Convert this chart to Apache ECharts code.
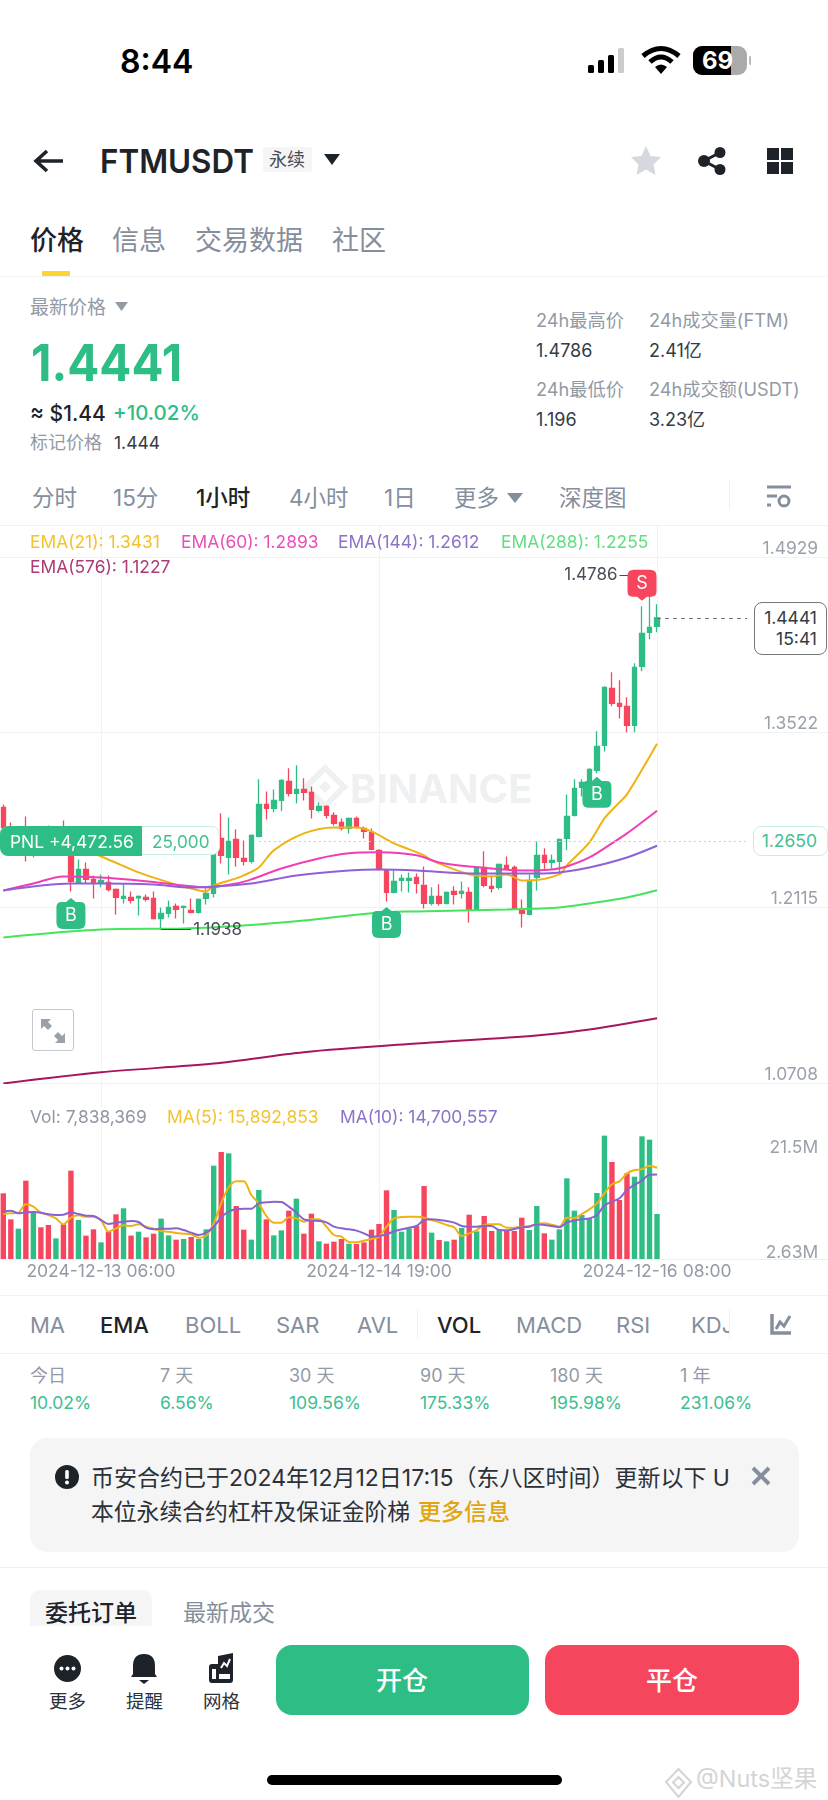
<!DOCTYPE html>
<html>
<head>
<meta charset="utf-8">
<title>FTMUSDT</title>
<script src="https://cdn.jsdelivr.net/npm/echarts@6/dist/echarts.min.js"></script>
<style>
html,body{margin:0;padding:0;background:#fff}
#page{position:relative;width:828px;height:1800px;overflow:hidden;background:#fff;font-family:Inter,"Noto Sans CJK SC",sans-serif}
#chart{position:absolute;left:0;top:525px;width:828px;height:757px}
.t{position:absolute;white-space:nowrap;line-height:1;transform:translateY(-50%);transform-origin:left center}
.b{position:absolute}
svg{position:absolute;overflow:visible;z-index:4}
</style>
</head>
<body>
<div id="page">
    <div id="chart"></div>
</div>
<script>
// [open, close, low, high], one per hour from 2024-12-12 17:00
var candles = [
    [1.2920,1.2759,1.2743,1.2944],[1.2751,1.2671,1.2655,1.2799],[1.2671,1.2719,1.2639,1.2751],[1.2735,1.2615,1.2486,1.2847],
    [1.2575,1.2671,1.2518,1.2719],[1.2695,1.2615,1.2591,1.2735],[1.2695,1.2639,1.2607,1.2775],[1.2615,1.2695,1.2575,1.2735],
    [1.2711,1.2655,1.2615,1.2815],[1.2671,1.2326,1.2245,1.2719],[1.2318,1.2422,1.2310,1.2502],[1.2422,1.2342,1.2310,1.2478],
    [1.2342,1.2310,1.2189,1.2374],[1.2318,1.2334,1.2278,1.2382],[1.2318,1.2261,1.2245,1.2374],[1.2261,1.2197,1.2061,1.2269],
    [1.2189,1.2205,1.2149,1.2310],[1.2197,1.2173,1.2149,1.2245],[1.2193,1.2205,1.2053,1.2213],[1.2197,1.2181,1.2165,1.2221],
    [1.2189,1.2028,1.2020,1.2245],[1.2028,1.2069,1.1938,1.2117],[1.2069,1.2117,1.2036,1.2173],[1.2125,1.2101,1.2028,1.2149],
    [1.2117,1.2125,1.1988,1.2133],[1.2093,1.2077,1.2069,1.2189],[1.2077,1.2181,1.2069,1.2189],[1.2189,1.2229,1.2141,1.2269],
    [1.2229,1.2575,1.2197,1.2615],[1.2671,1.2535,1.2470,1.2872],[1.2518,1.2647,1.2382,1.2839],[1.2663,1.2518,1.2446,1.2743],
    [1.2510,1.2486,1.2454,1.2655],[1.2486,1.2695,1.2470,1.2703],[1.2687,1.2944,1.2679,1.3145],[1.2944,1.2912,1.2823,1.3048],
    [1.2912,1.2976,1.2880,1.3064],[1.2976,1.3137,1.2888,1.3145],[1.3129,1.3032,1.3008,1.3233],[1.3032,1.3064,1.2952,1.3257],
    [1.3064,1.3040,1.2976,1.3153],[1.3040,1.2904,1.2831,1.3088],[1.2896,1.2928,1.2880,1.2960],[1.2928,1.2856,1.2831,1.2936],
    [1.2856,1.2791,1.2775,1.2880],[1.2799,1.2751,1.2735,1.2831],[1.2751,1.2831,1.2711,1.2839],[1.2831,1.2759,1.2751,1.2847],
    [1.2751,1.2727,1.2671,1.2767],[1.2719,1.2583,1.2575,1.2751],[1.2575,1.2422,1.2414,1.2583],[1.2414,1.2237,1.2165,1.2420],
    [1.2237,1.2326,1.2229,1.2414],[1.2334,1.2350,1.2245,1.2382],[1.2334,1.2350,1.2237,1.2398],[1.2358,1.2310,1.2229,1.2390],
    [1.2294,1.2149,1.2109,1.2446],[1.2149,1.2205,1.2133,1.2278],[1.2205,1.2149,1.2133,1.2302],[1.2149,1.2237,1.2141,1.2245],
    [1.2245,1.2221,1.2141,1.2286],[1.2229,1.2245,1.2189,1.2326],[1.2237,1.2101,1.1996,1.2278],[1.2101,1.2438,1.2093,1.2446],
    [1.2438,1.2294,1.2278,1.2567],[1.2286,1.2270,1.2237,1.2374],[1.2278,1.2462,1.2261,1.2470],[1.2454,1.2430,1.2422,1.2526],
    [1.2438,1.2109,1.2101,1.2454],[1.2093,1.2069,1.1956,1.2181],[1.2061,1.2334,1.2053,1.2382],[1.2358,1.2535,1.2253,1.2647],
    [1.2535,1.2478,1.2422,1.2591],[1.2478,1.2494,1.2430,1.2542],[1.2486,1.2663,1.2382,1.2671],[1.2671,1.2847,1.2575,1.3024],
    [1.2855,1.3072,1.2847,1.3145],[1.3080,1.3120,1.3008,1.3145],[1.3121,1.3225,1.3097,1.3233],[1.3217,1.3410,1.3193,1.3530],
    [1.3418,1.3883,1.3369,1.3891],[1.3875,1.3755,1.3731,1.4004],[1.3755,1.3731,1.3634,1.3940],[1.3731,1.3578,1.3522,1.3803],
    [1.3578,1.4044,1.3522,1.4076],[1.4052,1.4317,1.4012,1.4534],[1.4325,1.4365,1.4269,1.4786],[1.4373,1.4441,1.4325,1.4550]
];

// volume in millions
var volumes = [
    11.44,6.91,5.28,13.65,8.25,5.52,5.92,3.60,6.04,15.39,6.79,4.07,5.17,2.90,4.76,7.78,8.83,4.07,4.76,3.77,4.41,7.03,
    4.12,3.37,3.48,3.83,3.48,5.17,16.26,18.64,18.41,9.23,5.11,3.37,12.02,6.91,4.12,4.99,8.42,10.51,4.41,7.90,3.08,2.67,
    3.02,3.48,2.67,2.61,2.90,5.11,6.10,11.96,8.54,4.76,5.34,5.75,12.72,4.59,3.31,3.08,3.37,5.40,7.72,4.82,7.49,4.88,
    5.17,4.88,4.88,7.20,5.05,9.23,4.47,3.37,5.17,14.05,8.42,7.67,7.08,11.50,21.49,16.90,10.28,14.92,14.34,21.37,20.79,7.84
];
var volMa5 = [
    7.84,7.96,8.07,9.52,9.12,8.07,7.67,7.08,6.04,7.20,7.61,7.38,7.38,6.79,4.76,5.34,5.87,5.75,6.04,5.63,5.28,4.88,
    4.76,4.53,4.41,4.30,3.72,4.07,6.21,9.70,12.49,13.53,13.53,11.15,9.70,7.49,6.33,6.33,7.26,7.08,6.50,6.91,6.91,5.63,
    4.18,3.89,2.96,2.90,3.19,3.48,3.89,5.63,7.08,7.32,7.38,7.38,7.20,6.79,6.39,5.92,5.52,4.01,4.47,5.05,5.92,6.04,
    6.04,5.46,5.46,5.63,5.75,6.10,6.21,5.98,5.63,7.20,7.14,7.84,8.65,9.70,11.44,13.01,13.53,14.92,15.51,15.62,16.26,15.89
];
var volMa10 = [
    8.25,8.42,7.96,8.13,8.19,8.07,7.78,7.67,7.72,8.13,7.84,7.55,7.49,6.79,6.10,6.33,6.50,6.62,6.45,5.46,5.17,5.28,
    5.28,5.34,5.05,4.59,4.18,4.59,5.63,7.26,8.25,8.65,8.77,8.77,9.70,9.87,9.99,9.93,9.12,8.07,6.91,6.68,6.62,6.39,
    5.63,5.34,5.17,4.94,4.47,3.89,4.01,4.30,4.82,5.17,5.46,5.75,6.79,6.91,6.79,6.62,6.33,5.75,5.63,5.63,5.81,5.75,
    5.05,4.99,5.23,5.52,5.63,6.04,5.92,5.75,5.52,6.39,6.68,6.91,7.08,7.67,9.35,9.99,10.57,12.02,12.89,13.65,14.69,14.70
];

var ema21 = [[0,1.2671],[6,1.2671],[13,1.2526],[18,1.2398],[22,1.2318],[25,1.2269],[27,1.2245],[28,1.2293],[31,1.2350],[32,1.2374],[34,1.2438],[36,1.2575],[40,1.2711],[44,1.2759],[47,1.2759],[49,1.2727],[52,1.2631],[54,1.2583],[56,1.2535],[57,1.2494],[62,1.2382],[65,1.2366],[67,1.2382],[69,1.2334],[70,1.2334],[74,1.2382],[75,1.2454],[78,1.2639],[80,1.2831],[82,1.2960],[83,1.3024],[87,1.3431]];
var ema60 = [[0,1.2253],[4,1.2309],[8,1.2366],[13,1.2358],[18,1.2334],[24,1.2293],[27,1.2277],[31,1.2309],[33,1.2342],[37,1.2430],[42,1.2510],[46,1.2551],[50,1.2559],[55,1.2535],[58,1.2478],[62,1.2446],[69,1.2414],[73,1.2422],[75,1.2446],[78,1.2518],[81,1.2631],[83,1.2711],[87,1.2893]];
var ema144 = [[0,1.2253],[9,1.2309],[13,1.2309],[20,1.2301],[25,1.2277],[28,1.2285],[33,1.2309],[39,1.2374],[46,1.2414],[50,1.2422],[55,1.2414],[62,1.2390],[67,1.2390],[71,1.2390],[74,1.2398],[78,1.2438],[83,1.2518],[87,1.2612]];
var ema288 = [[0,1.1876],[13,1.1940],[24,1.1948],[32,1.1972],[40,1.2012],[50,1.2077],[55,1.2085],[67,1.2101],[74,1.2117],[78,1.2149],[83,1.2197],[87,1.2255]];
var ema576 = [[0,1.0704],[13,1.0794],[28,1.0864],[40,1.0955],[55,1.1025],[71,1.1089],[78,1.1137],[87,1.1227]];

var priceTicks = [1.0708, 1.2115, 1.3522, 1.4929];
var volTicks = [2.63, 21.5];
var lastPrice = 1.4441;
var entryPrice = 1.2650;
var highPrice = 1.4786;
var lowPrice = 1.1938;
var buyMarks = [[9,1.2189],[51,1.2117],[79,1.3161]];
var sellMarks = [[85,1.4582]];

var GREEN = '#2ebd85', RED = '#f6465d', GRAY = '#848e9c', DARK = '#1e2329', LINE = '#f1f2f4';

// x axis keeps 23 empty hours on the right
var categories = [];
for (var k = 0; k < 111; k++) {
    var d = new Date(Date.UTC(2024, 11, 12, 17 + k));
    var pad = function (n) { return (n < 10 ? '0' : '') + n; };
    categories.push(d.getUTCFullYear() + '-' + pad(d.getUTCMonth() + 1) + '-' + pad(d.getUTCDate()) + ' ' + pad(d.getUTCHours()) + ':00');
}
var showTick = function (i) { return i === 13 || i === 50 || i === 87; };

var page = document.getElementById('page');
function txt(s, x, cy, size, color, weight, right) {
    var e = document.createElement('div');
    e.className = 't';
    e.textContent = s;
    e.style.top = cy + 'px';
    if (right) { e.style.right = (828 - x) + 'px'; } else { e.style.left = x + 'px'; }
    e.style.fontSize = size + 'px';
    e.style.color = color || DARK;
    if (weight) e.style.fontWeight = weight;
    page.appendChild(e);
    return e;
}
function box(x, y, w, h, bg, radius, extra) {
    var e = document.createElement('div');
    e.className = 'b';
    e.style.cssText = 'left:' + x + 'px;top:' + y + 'px;width:' + w + 'px;height:' + h + 'px;background:' + bg + ';border-radius:' + (radius || 0) + 'px;' + (extra || '');
    page.appendChild(e);
    return e;
}
function svg(x, y, w, h, inner, vb) {
    var s = document.createElementNS('http://www.w3.org/2000/svg', 'svg');
    s.setAttribute('viewBox', vb || ('0 0 ' + w + ' ' + h));
    s.setAttribute('width', w);
    s.setAttribute('height', h);
    s.style.left = x + 'px';
    s.style.top = y + 'px';
    s.innerHTML = inner;
    page.appendChild(s);
}

// status bar
txt('8:44', 120, 62, 32, '#000', 600);
svg(588, 48, 42, 25, '<rect x="0" y="17" width="6" height="8" rx="1.5" fill="#000"/><rect x="10" y="12" width="6" height="13" rx="1.5" fill="#000"/><rect x="20" y="7" width="6" height="18" rx="1.5" fill="#000"/><rect x="30" y="0" width="6" height="25" rx="1.5" fill="#ccc"/>');
svg(642, 47, 38, 27, '<path d="M1 9 Q19 -6 37 9" fill="none" stroke="#000" stroke-width="5"/><path d="M8 15 Q19 5 30 15" fill="none" stroke="#000" stroke-width="5"/><path d="M13 20 L19 27 L25 20 Q19 15 13 20Z" fill="#000"/>');
box(693, 46, 54, 29, '#aaa', 9);
box(693, 46, 38, 29, '#000', 9, 'border-radius:9px 0 0 9px');
box(749, 56, 2, 9, '#bbb', 1);
txt('69', 702, 61, 24, '#fff', 700);

// header
svg(34, 149, 30, 24, '<path d="M13 2 L2 12 L13 22 M3 12 H29" fill="none" stroke="' + DARK + '" stroke-width="3.6"/>');
txt('FTMUSDT', 100, 161, 33, DARK, 600).style.transform = 'translateY(-50%) scaleX(.95)';
box(263, 147, 49, 25, '#f5f5f5', 3);
txt('永续', 269, 160, 18, '#474d57');
svg(324, 154, 16, 11, '<path d="M0 0 H16 L8 11Z" fill="' + DARK + '"/>');
svg(631, 146, 30, 29, '<path d="M15 0 L19.5 10 L30 11 L22.5 18.5 L24.5 29 L15 23.5 L5.5 29 L7.5 18.5 L0 11 L10.5 10Z" fill="#d5d8dd"/>');
svg(698, 147, 28, 28, '<circle cx="22" cy="5.5" r="5.5" fill="' + DARK + '"/><circle cx="22" cy="22.5" r="5.5" fill="' + DARK + '"/><circle cx="6" cy="14" r="6" fill="' + DARK + '"/><path d="M22 5.5 L6 14 L22 22.5" fill="none" stroke="' + DARK + '" stroke-width="3"/>');
svg(767, 148, 26, 26, '<rect width="12" height="12" fill="' + DARK + '"/><rect x="14" width="12" height="12" fill="' + DARK + '"/><rect y="14" width="12" height="12" fill="' + DARK + '"/><rect x="14" y="14" width="12" height="12" fill="' + DARK + '"/>');

// tabs
[['价格',30,DARK,500],['信息',112,GRAY],['交易数据',195,GRAY],['社区',332,GRAY]].forEach(function (a) { txt(a[0], a[1], 240, 27, a[2], a[3]); });
box(42, 271, 28, 5, '#fcd535');
box(0, 276, 828, 1, '#f3f4f5');

// price block
txt('最新价格', 30, 307, 19, '#929aa5');
svg(115, 302, 13, 9, '<path d="M0 0 H13 L6.5 9Z" fill="#929aa5"/>');
txt('1.4441', 31, 362, 51, GREEN, 700).style.transform = 'translateY(-50%) scaleX(.93)';
txt('≈ $1.44', 30, 413, 21, DARK, 500);
txt('+10.02%', 113, 413, 20.5, GREEN, 500);
txt('标记价格', 30, 443, 18, '#929aa5');
txt('1.444', 114, 443, 17.5, '#333b44');
[['24h最高价',536,320],['24h成交量(FTM)',649,320],['24h最低价',536,389],['24h成交额(USDT)',649,389]].forEach(function (a) { txt(a[0], a[1], a[2], 18.2, '#929aa5'); });
[['1.4786',536,351],['2.41亿',649,351],['1.196',536,420],['3.23亿',649,420]].forEach(function (a) { txt(a[0], a[1], a[2], 18, '#333b44'); });

// period row
[['分时',32],['15分',113],['4小时',289],['1日',384],['更多',454],['深度图',559]].forEach(function (a) { txt(a[0], a[1], 498, 22.5, GRAY); });
txt('1小时', 196, 498, 22.5, DARK, 500);
svg(507, 493, 16, 10, '<path d="M0 0 H16 L8 10Z" fill="' + GRAY + '"/>');
box(729, 480, 1, 30, '#f1f2f4');
svg(767, 485, 24, 24, '<path d="M0 2 H24" stroke="' + GRAY + '" stroke-width="3"/><path d="M0 11 H10 M0 20 H4" stroke="' + GRAY + '" stroke-width="3"/><circle cx="17" cy="16" r="5" fill="none" stroke="' + GRAY + '" stroke-width="3"/>');
box(0, 525, 828, 1, LINE);

// chart overlays: legends and tags
[['EMA(21): 1.3431',30,542,'#f3c22f'],['EMA(60): 1.2893',181,542,'#ea4fb8'],['EMA(144): 1.2612',338,542,'#8c72c9'],['EMA(288): 1.2255',501,542,'#62dd80'],['EMA(576): 1.1227',30,567,'#ab3b72']].forEach(function (a) {
    txt(a[0], a[1], a[2], 17.4, a[3]).style.zIndex = 3;
});
txt('Vol: 7,838,369', 30, 1117, 17.4, '#8f97a3').style.zIndex = 3;
txt('MA(5): 15,892,853', 167, 1117, 17.4, '#f3c22f').style.zIndex = 3;
txt('MA(10): 14,700,557', 340, 1117, 17.4, '#8c72c9').style.zIndex = 3;

box(754, 602, 71, 51, '#fff', 8, 'border:1.5px solid #777;z-index:3');
txt('1.4441', 817, 618, 17.5, '#333b44', null, true).style.zIndex = 4;
txt('15:41', 817, 639, 17.5, '#333b44', null, true).style.zIndex = 4;
box(753, 826, 73, 28, '#fff', 8, 'border:1.5px solid #c6efdf;z-index:3');
txt('1.2650', 817, 841, 17.5, '#45c08f', null, true).style.zIndex = 4;
box(0, 826, 218, 27, '#fff', 8, 'border:1.5px solid #c6efdf;z-index:3');
box(0, 826, 142, 30, GREEN, 8, 'border-radius:8px 0 0 8px;z-index:3');
txt('PNL +4,472.56', 10, 842, 17.4, '#fff').style.zIndex = 4;
txt('25,000', 152, 842, 17.2, '#45c08f').style.zIndex = 4;
box(32, 1009, 40, 40, '#fff', 3, 'border:1.5px solid #c5c9ce;z-index:3');
svg(41, 1019, 24, 24, '<path d="M0 0 H10 L7 3 L11 7 L7 11 L3 7 L0 10Z M24 24 H14 L17 21 L13 17 L17 13 L21 17 L24 14Z" fill="#9aa1ab"/>');

// indicator row
[['MA',30],['BOLL',185],['SAR',276],['AVL',357],['MACD',516],['RSI',616]].forEach(function (a) { txt(a[0], a[1], 1325, 22, GRAY); });
txt('EMA', 100, 1325, 22, DARK, 500);
txt('VOL', 437, 1325, 22, DARK, 500);
var kdj = txt('KDJ', 691, 1325, 22, GRAY);
kdj.style.width = '38px';
kdj.style.overflow = 'hidden';
box(417, 1309, 1, 30, '#f1f2f4');
box(729, 1309, 1, 30, '#f1f2f4');
svg(770, 1314, 21, 21, '<path d="M2 0 V19 H21" fill="none" stroke="' + GRAY + '" stroke-width="3.5"/><path d="M6 15 L10 8 L14 12 L20 2" fill="none" stroke="' + GRAY + '" stroke-width="3"/>');
box(0, 1295, 828, 1, '#f0f1f3');
box(0, 1353, 828, 1, '#f0f1f3');

// period returns
[['今日','10.02%',30],['7 天','6.56%',160],['30 天','109.56%',289],['90 天','175.33%',420],['180 天','195.98%',550],['1 年','231.06%',680]].forEach(function (a) {
    txt(a[0], a[2], 1376, 18, '#929aa5');
    txt(a[1], a[2], 1403, 17.5, '#3cc08f');
});

// notice
box(30, 1438, 769, 114, '#f5f5f5', 17);
svg(55, 1465, 24, 24, '<circle cx="12" cy="12" r="12" fill="' + DARK + '"/><rect x="10.2" y="5" width="3.6" height="9" rx="1.5" fill="#fff"/><circle cx="12" cy="17.5" r="2" fill="#fff"/>');
txt('币安合约已于2024年12月12日17:15（东八区时间）更新以下 U', 91, 1478, 23, '#2b3139');
txt('本位永续合约杠杆及保证金阶梯', 91, 1512, 22.8, '#2b3139');
txt('更多信息', 418, 1512, 23, '#e0a50f', 500);
svg(752, 1467, 18, 18, '<path d="M1 1 L17 17 M17 1 L1 17" stroke="#848e9c" stroke-width="4"/>');
box(0, 1567, 828, 1, '#eeeff1');

// order tabs
box(30, 1590, 122, 36, '#f5f5f5', 10, 'border-radius:10px 10px 0 0');
txt('委托订单', 45, 1613, 23, DARK, 500);
txt('最新成交', 183, 1613, 23, GRAY);

// bottom bar
svg(54, 1655, 27, 27, '<circle cx="13.5" cy="13.5" r="13.5" fill="' + DARK + '"/><circle cx="7.5" cy="13.5" r="2" fill="#fff"/><circle cx="13.5" cy="13.5" r="2" fill="#fff"/><circle cx="19.5" cy="13.5" r="2" fill="#fff"/>');
svg(131, 1654, 26, 30, '<path d="M13 0 Q24 0 24 12 V20 L26 23 H0 L2 20 V12 Q2 0 13 0Z" fill="' + DARK + '"/><path d="M8 26 H18 L13 30Z" fill="' + DARK + '"/>');
svg(209, 1653, 26, 30, '<path d="M9 3 L24 0 V27 Q24 30 21 30 H3 Q0 30 0 27 V14 Q0 11 3 11 H9Z" fill="' + DARK + '"/><path d="M12 15 L15 10 L18 13 L21 6" stroke="#fff" fill="none" stroke-width="2"/><rect x="3" y="16" width="4" height="10" fill="#fff"/><rect x="10" y="21" width="11" height="5" fill="#fff"/>');
[['更多',49],['提醒',126],['网格',203]].forEach(function (a) { txt(a[0], a[1], 1701, 18.5, '#2b3139'); });
box(276, 1645, 253, 70, GREEN, 16);
box(545, 1645, 254, 70, RED, 16);
txt('开仓', 376, 1681, 26, '#fff', 500);
txt('平仓', 646, 1681, 26, '#fff', 500);
box(267, 1775, 295, 10, '#000', 5);
svg(665, 1768, 27, 30, '<path d="M13.5 1 L26 14 L13.5 29 L1 14Z M13.5 9 L19 14.5 L13.5 20 L8 14.5Z" fill="none" stroke="#d4d4d4" stroke-width="2"/>');
txt('@Nuts坚果', 696, 1779, 23.5, '#d4d4d4');

// candle chart
var chart = echarts.init(document.getElementById('chart'), null, {renderer: 'canvas'});
var bandW = 7.514;
var gridW = bandW * categories.length;
var tagB = 'path://M13.5 0 L18 4 H22 Q27 4 27 9 V24 Q27 30 21 30 H6 Q0 30 0 24 V9 Q0 4 5 4 H9 Z';
var tagS = 'path://M13.5 30 L18 26 H22 Q27 26 27 21 V6 Q27 0 21 0 H6 Q0 0 0 6 V21 Q0 26 5 26 H9 Z';

function emaSeries(name, data, color, extra) {
    return Object.assign({
        name: name, type: 'line', data: data, xAxisIndex: 0, yAxisIndex: 0, z: 3,
        symbol: 'none', silent: true, smooth: 0.3, lineStyle: {color: color, width: 2}
    }, extra || {});
}
function extremeLine(price, fromIdx, toIdx) {
    return [
        {coord: [fromIdx, price], lineStyle: {color: '#474d57', width: 1, type: 'solid'},
         label: {show: true, position: 'end', formatter: price.toFixed(4), color: '#474d57', fontSize: 17, distance: 2}},
        {coord: [toIdx, price]}
    ];
}

var xAxisCommon = {
    type: 'category', data: categories, boundaryGap: true,
    axisTick: {show: false}, axisPointer: {show: false},
    splitLine: {show: true, alignWithLabel: true, interval: function (i) { return showTick(i); }, lineStyle: {color: LINE, width: 1}}
};

chart.setOption({
    animation: false,
    backgroundColor: 'transparent',
    textStyle: {fontFamily: 'Inter, "Noto Sans CJK SC", sans-serif'},
    graphic: [
        {type: 'text', left: 350, top: 246, z: 0, silent: true, style: {text: 'BINANCE', fill: '#eff0f1', font: '700 40px Inter, sans-serif'}},
        {type: 'group', left: 303, top: 240, z: 0, silent: true, children: [
            {type: 'polygon', shape: {points: [[19,0],[38,19],[19,38],[0,19]]}, style: {fill: 'none', stroke: '#eff0f1', lineWidth: 6}},
            {type: 'polygon', shape: {points: [[19,13],[25,19],[19,25],[13,19]]}, style: {fill: '#eff0f1'}}
        ]}
    ],
    grid: [
        {left: -0.45, top: 1, width: gridW, height: 557, outerBoundsMode: 'none'},
        {left: -0.45, top: 558, width: gridW, height: 176, outerBoundsMode: 'none'}
    ],
    xAxis: [
        Object.assign({gridIndex: 0, axisLine: {show: false}, axisLabel: {show: false}}, xAxisCommon),
        Object.assign({gridIndex: 1, axisLine: {show: true, lineStyle: {color: '#eeeff5', width: 1}},
            axisLabel: {show: true, hideOverlap: false, interval: function (i) { return showTick(i); }, color: '#929aa5', fontSize: 17.5, margin: 4}}, xAxisCommon)
    ],
    yAxis: [
        {type: 'value', gridIndex: 0, min: priceTicks[0], max: 1.5178, scale: true, position: 'right',
            axisLine: {show: false}, axisTick: {show: false, customValues: priceTicks},
            axisLabel: {inside: true, margin: 15.5, color: '#9aa1ab', fontSize: 17.4, verticalAlign: 'bottom', customValues: priceTicks,
                formatter: function (v) { return v.toFixed(4); }},
            splitLine: {show: true, lineStyle: {color: LINE, width: 1}}},
        {type: 'value', gridIndex: 1, min: 0, max: 30.66, position: 'right',
            axisLine: {show: false}, axisTick: {show: false, customValues: volTicks},
            axisLabel: {inside: true, margin: 15.5, color: '#9aa1ab', fontSize: 17.4, verticalAlign: 'top', customValues: volTicks,
                formatter: function (v) { return v > 10 ? '{hi|' + v + 'M}' : v + 'M'; },
                rich: {hi: {color: '#9aa1ab', fontSize: 17.4, padding: [3, 0, 0, 0]}}},
            splitLine: {show: false}}
    ],
    series: [
        {
            name: 'k', type: 'candlestick', data: candles, xAxisIndex: 0, yAxisIndex: 0, z: 2, silent: true,
            barWidth: 5,
            itemStyle: {color: GREEN, color0: RED, borderColor: GREEN, borderColor0: RED, borderWidth: 1.3},
            markLine: {
                silent: true, symbol: 'none', animation: false,
                data: [
                    [{coord: [87, lastPrice], label: {show: false}, lineStyle: {color: '#777', width: 1, type: [4, 4]}}, {coord: [99, lastPrice]}],
                    [{coord: [34, entryPrice], label: {show: false}, lineStyle: {color: '#9fe3c8', width: 1, type: [2, 3]}}, {coord: [99, entryPrice]}]
                ]
            }
        },
        emaSeries('EMA21', ema21, '#eeb311'),
        emaSeries('EMA60', ema60, '#f03fb5'),
        emaSeries('EMA144', ema144, '#8f60d8'),
        emaSeries('EMA288', ema288, '#45e45e'),
        emaSeries('EMA576', ema576, '#a8155f', {
            z: 5,
            markLine: {silent: true, symbol: 'none', animation: false, data: [
                extremeLine(highPrice, 86, 82),
                extremeLine(lowPrice, 21, 25)
            ]},
            markPoint: {
                silent: true, animation: false,
                data: buyMarks.map(function (c) {
                    return {coord: c, symbol: tagB, symbolSize: [29, 31], symbolOffset: [0, 15], itemStyle: {color: GREEN},
                        label: {show: true, formatter: 'B', color: '#fff', fontSize: 18, offset: [0, 2]}};
                }).concat(sellMarks.map(function (c) {
                    return {coord: c, symbol: tagS, symbolSize: [29, 31], symbolOffset: [0, -15], itemStyle: {color: RED},
                        label: {show: true, formatter: 'S', color: '#fff', fontSize: 18, offset: [0, -2]}};
                }))
            }
        }),
        {
            name: 'Vol', type: 'bar', xAxisIndex: 1, yAxisIndex: 1, barWidth: 5.4, silent: true, z: 2,
            data: volumes.map(function (v, i) {
                return {value: v, itemStyle: {color: candles[i][1] >= candles[i][0] ? GREEN : RED}};
            })
        },
        {name: 'MA5', type: 'line', xAxisIndex: 1, yAxisIndex: 1, data: volMa5, symbol: 'none', silent: true, smooth: 0.3, z: 3, lineStyle: {color: '#eeb311', width: 2}},
        {name: 'MA10', type: 'line', xAxisIndex: 1, yAxisIndex: 1, data: volMa10, symbol: 'none', silent: true, smooth: 0.3, z: 4, lineStyle: {color: '#8a62d0', width: 2}}
    ]
});
</script>
</body>
</html>
